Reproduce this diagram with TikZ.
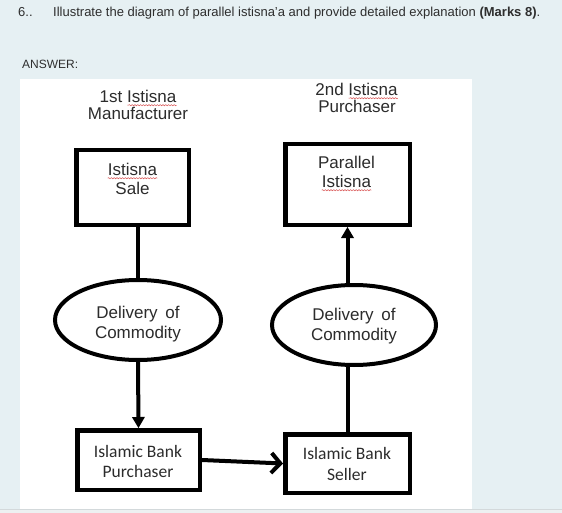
\documentclass[tikz,border=0pt]{standalone}
\usepackage{fontspec}
\setmainfont{Liberation Sans}
\newfontfamily\carlitofont{Carlito}
\usetikzlibrary{shapes.geometric,arrows.meta,decorations.pathmorphing}
\definecolor{bgblue}{HTML}{E6F0F3}
\definecolor{txt}{HTML}{2E2E2E}
\definecolor{lbl}{HTML}{2C2C2C}
\definecolor{squig}{HTML}{D85050}
\definecolor{rulegray}{HTML}{D3D9DB}
\newlength\istw
\settowidth{\istw}{\fontsize{17}{18}\selectfont Istisna}
\begin{document}
\begin{tikzpicture}[x=1pt,y=-1pt,
  box/.style={draw=black,line width=4.5pt,inner sep=0pt,fill=white},
  ell/.style={ellipse,draw=black,line width=4pt,inner sep=0pt,fill=white},
  lab/.style={anchor=base,inner sep=0pt,text=lbl,font=\fontsize{17}{18}\selectfont},
  cal/.style={anchor=base,inner sep=0pt,text=lbl,font=\carlitofont\fontsize{17.5}{20}\selectfont},
  head/.style={anchor=base west,inner sep=0pt,text=txt,font=\fontsize{13}{15}\selectfont},
  conn/.style={line width=4pt},
  tri/.style={-{Triangle[length=11pt,width=13pt,line width=0pt]}},
  barb/.style={-{Straight Barb[length=9pt,width=20pt,line width=4pt]}},
  squiggle/.style={draw=squig,line width=0.5pt,decorate,
    decoration={snake,amplitude=0.6pt,segment length=2.8pt}}
]
\useasboundingbox (0,0) rectangle (562,513);
% background and panel
\fill[bgblue] (0,0) rectangle (562,513);
\fill[white] (20,79) rectangle (472,509);
\fill[rulegray!40] (0,510) rectangle (562,513);
\draw[rulegray,line width=1.2pt] (0,509.6) -- (562,509.6);

% header
\node[head] (qnum) at (18,17) {6..};
\node[head] (qtext) at (53,17) {Illustrate the diagram of parallel istisna'a and provide detailed explanation \textbf{(Marks 8)}.};
\node[head,font=\fontsize{12}{14}\selectfont] (answer) at (22,69) {ANSWER:};

% top labels
\node[lab] (t1a) at (138,103) {1st Istisna};
\node[lab] (t1b) at (138,120) {Manufacturer};
\node[lab] (t2a) at (356.5,96) {2nd Istisna};
\node[lab] (t2b) at (357,113) {Purchaser};

% boxes
\node[box,minimum width=112.5pt,minimum height=74.5pt] (sale) at (132.5,187.5) {};
\node[box,minimum width=124.5pt,minimum height=80.5pt] (par) at (347.5,184.5) {};
\node[box,minimum width=122.5pt,minimum height=59.5pt] (bpur) at (138.5,460) {};
\node[box,minimum width=124.5pt,minimum height=58.5pt] (bsel) at (347.5,463.5) {};

% ellipses
\node[ell,minimum width=166pt,minimum height=80pt] (e1) at (138,320) {};
\node[ell,minimum width=164pt,minimum height=80pt] (e2) at (354,325) {};

% box texts
\node[lab] (s1) at (132.5,176) {Istisna};
\node[lab] (s2) at (132.5,195) {Sale};
\node[lab] (p1) at (346.5,169) {Parallel};
\node[lab] (p2) at (346.5,188) {Istisna};
\node[lab] (d1a) at (138,318) {Delivery\hspace{3pt} of};
\node[lab] (d1b) at (138,338) {Commodity};
\node[lab] (d2a) at (354,320) {Delivery\hspace{3pt} of};
\node[lab] (d2b) at (354,340) {Commodity};
\node[cal] (i1a) at (138,457) {Islamic Bank};
\node[cal] (i1b) at (138,477) {Purchaser};
\node[cal] (i2a) at (347,459) {Islamic Bank};
\node[cal] (i2b) at (347,480) {Seller};

% spelling squiggles
\draw[squiggle] ([yshift=-2.2pt]t1a.base east) -- ++(-\istw,0);
\draw[squiggle] ([yshift=-2.2pt]t2a.base east) -- ++(-\istw,0);
\draw[squiggle] ([yshift=-2.2pt]s1.base west) -- ([yshift=-2.2pt]s1.base east);
\draw[squiggle] ([yshift=-2.2pt]p2.base west) -- ([yshift=-2.2pt]p2.base east);

% connectors
\draw[conn] (sale.south -| e1.north) -- (e1.north);
\draw[conn,tri] (e1.south) -- (bpur.north);
\draw[conn,barb] (bpur.east) -- (bsel.west);
\draw[conn] (bsel.north) -- (bsel.north |- e2.south);
\draw[conn,tri] (par.south |- e2.north) -- (par.south);
\end{tikzpicture}
\end{document}
